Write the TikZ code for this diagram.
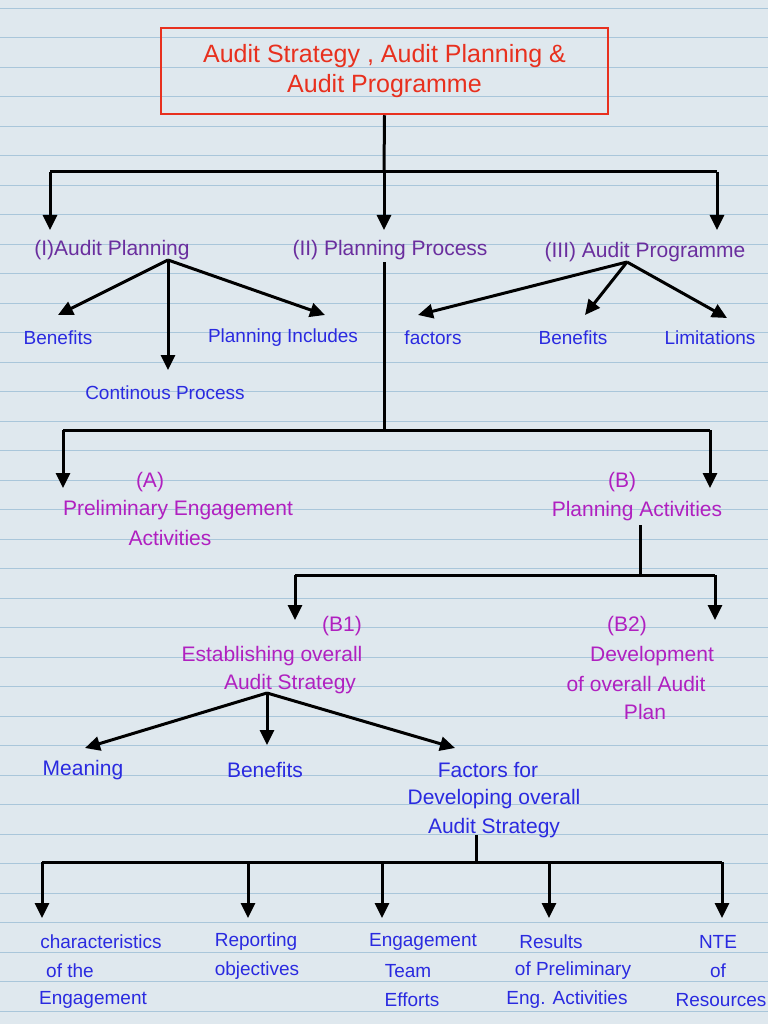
\documentclass[tikz,border=0pt]{standalone}
\usepackage{fontspec}
\setmainfont{Liberation Sans}
\usetikzlibrary{arrows.meta}
\definecolor{paper}{HTML}{DFE8EE}
\definecolor{rule}{HTML}{A9C6DA}
\definecolor{ttl}{HTML}{E8301E}
\definecolor{pur}{HTML}{6A2E9E}
\definecolor{blu}{HTML}{2A2AE0}
\definecolor{mag}{HTML}{B020C0}
\begin{document}
\begin{tikzpicture}[x=1pt,y=-1pt,
  ln/.style={line width=3pt,black},
  ar/.style={ln,-{Triangle[length=15pt,width=14pt]}},
  t/.style={font=\fontsize{19}{19}\selectfont,inner sep=0pt},
  h/.style={t,pur,font=\fontsize{21}{21}\selectfont},
  b/.style={t,blu},
  m/.style={t,mag,font=\fontsize{21}{21}\selectfont}]
\fill[paper] (0,0) rectangle (768,1024);
\useasboundingbox (0,0) rectangle (768,1024);
\foreach \y in {0,...,34} \draw[rule,line width=0.8pt] (0,{8+29.5*\y}) -- (768,{8+29.5*\y});
% title
\node[draw=ttl,line width=2.5pt,minimum width=447pt,minimum height=86pt,inner sep=0pt,align=center,text=ttl,font=\fontsize{25}{30}\selectfont] (title) at (384.5,71) {Audit Strategy , Audit Planning \&\\Audit Programme};
\coordinate (j1) at (384,172);
\coordinate (j1l) at (50,172); \coordinate (j1r) at (717,172);
\draw[ln] (title.south) -- (j1);
\draw[ln] (j1l) -- (j1r);
\node[h] (I) at (112,250) {(I)Audit Planning};
\node[h] (II) at (390,250) {(II) Planning Process};
\node[h] (III) at (645,252) {(III) Audit Programme};
\draw[ar] (j1l) -- (50,230);
\draw[ar] (j1) -- (384,230);
\draw[ar] (j1r) -- (717,230);
% I children
\coordinate (i0) at (168,260);
\node[b] (ib) at (58,338) {Benefits};
\node[b] (ii) at (283,338) {Planning Includes};
\node[b] (ic) at (165,393) {Continous Process};
\draw[ar] (i0) -- (58,315);
\draw[ar] (i0) -- (168,370);
\draw[ar] (i0) -- (325,315);
% III children
\coordinate (p0) at (627,262);
\node[b] (pf) at (433,338) {factors};
\node[b] (pb) at (573,338) {Benefits};
\node[b] (pl) at (710,338) {Limitations};
\draw[ar] (p0) -- (418,315);
\draw[ar] (p0) -- (585,315);
\draw[ar] (p0) -- (727,318);
% II down
\coordinate (j2) at (384,430);
\coordinate (j2l) at (63,430); \coordinate (j2r) at (710,430);
\draw[ln] (384,262) -- (j2);
\draw[ln] (j2l) -- (j2r);
\draw[ar] (j2l) -- (63,488);
\draw[ar] (j2r) -- (710,488);
\node[m] (A) at (150,482) {(A)};
\node[m] (A1) at (178,510) {Preliminary Engagement};
\node[m] (A2) at (170,538) {Activities};
\node[m] (B) at (622,482) {(B)};
\node[m] (B0) at (637,511) {Planning Activities};
% B down
\coordinate (j3) at (640,575);
\coordinate (j3l) at (295,575); \coordinate (j3r) at (715,575);
\draw[ln] (640,525) -- (j3);
\draw[ln] (j3l) -- (j3r);
\draw[ar] (j3l) -- (295,620);
\draw[ar] (j3r) -- (715,620);
\node[m] (B1) at (342,626) {(B1)};
\node[m] (B1a) at (272,656) {Establishing overall};
\node[m] (B1b) at (290,684) {Audit Strategy};
\node[m] (B2) at (627,626) {(B2)};
\node[m] (B2a) at (652,656) {Development};
\node[m] (B2b) at (636,684) {of overall Audit};
\node[m] (B2c) at (645,712) {Plan};
% B1 children
\coordinate (s0) at (267,693);
\node[b,font=\fontsize{21}{21}\selectfont] (sm) at (83,770) {Meaning};
\node[b,font=\fontsize{21}{21}\selectfont] (sb) at (265,770) {Benefits};
\node[b,font=\fontsize{21}{21}\selectfont] (sf1) at (488,770) {Factors for};
\node[b,font=\fontsize{21}{21}\selectfont] (sf2) at (494,799) {Developing overall};
\node[b,font=\fontsize{21}{21}\selectfont] (sf3) at (494,828) {Audit Strategy};
\draw[ar] (s0) -- (85,748);
\draw[ar] (s0) -- (267,745);
\draw[ar] (s0) -- (455,748);
% factors
\coordinate (j4) at (476,862);
\coordinate (j4l) at (42,862); \coordinate (j4r) at (722,862);
\draw[ln] (476,835) -- (j4);
\draw[ln] (j4l) -- (j4r);
\foreach \x in {42,248,382,549,722} \draw[ar] (\x,862) -- (\x,918);
\node[b] (c1) at (101,942) {characteristics};
\node[b] (c2) at (70,971) {of the};
\node[b] (c3) at (93,1000) {Engagement};
\node[b] (r1) at (256,942) {Reporting};
\node[b] (r2) at (257,971) {objectives};
\node[b] (e1) at (423,942) {Engagement};
\node[b] (e2) at (408,971) {Team};
\node[b] (e3) at (412,1000) {Efforts};
\node[b] (q1) at (551,942) {Results};
\node[b] (q2) at (573,971) {of Preliminary};
\node[b] (q3) at (567,1000) {Eng. Activities};
\node[b] (n1) at (718,942) {NTE};
\node[b] (n2) at (718,971) {of};
\node[b] (n3) at (721,1000) {Resources};
\end{tikzpicture}
\end{document}
